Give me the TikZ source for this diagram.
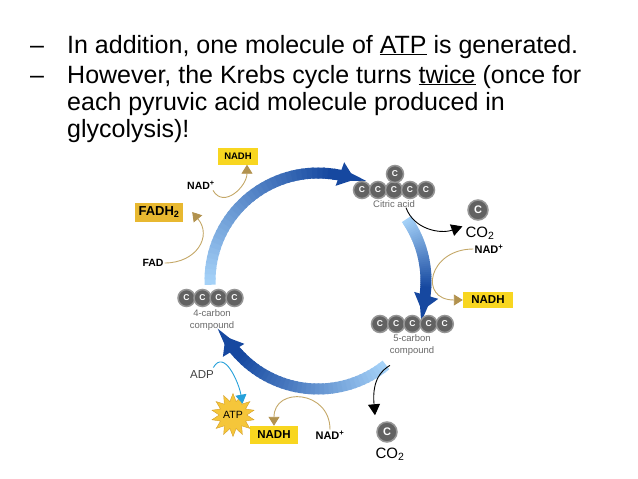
\documentclass[tikz,border=0pt]{standalone}
\usepackage{fontspec}
\setmainfont{Liberation Sans}
\usetikzlibrary{arrows.meta,shapes.geometric}

\begin{document}
\begin{tikzpicture}[x=1pt, y=1pt,
    carbon/.style={circle, fill=colorC, draw=colorCring, line width=1.5pt, minimum size=17pt, inner sep=0pt, text=white, font=\bfseries\fontsize{8.5}{8.5}\selectfont},
    molname/.style={text=colorLbl, font=\fontsize{9.5}{11.5}\selectfont, inner sep=0pt, align=center},
    cofactor/.style={font=\bfseries\fontsize{11}{11}\selectfont, inner sep=1pt},
    nadhbox/.style={fill=colorNADH, font=\bfseries\fontsize{11.5}{11.5}\selectfont, minimum width=48pt, minimum height=17pt, inner sep=0pt},
    tanarrow/.style={draw=colorTan, line width=0.9pt, -{Triangle[width=11pt,length=9pt,color=colorTanHead]}},
    blackarrow/.style={draw=black, line width=0.9pt, -{Triangle[width=12pt,length=11pt]}},
    puce/.style={anchor=base west, inner sep=0pt, font=\fontsize{25}{28}\selectfont}
]
    % Couleurs
    \definecolor{cycLight}{RGB}{165,210,248}
    \definecolor{cycDark}{RGB}{22,72,160}
    \definecolor{colorNADH}{RGB}{248,214,32}
    \definecolor{colorFADH}{RGB}{232,184,48}
    \definecolor{colorTan}{RGB}{196,168,104}
    \definecolor{colorTanHead}{RGB}{178,146,78}
    \definecolor{colorC}{RGB}{98,98,98}
    \definecolor{colorCring}{RGB}{150,150,150}
    \definecolor{colorLbl}{RGB}{105,105,105}
    \definecolor{colorATP}{RGB}{245,198,58}
    \definecolor{colorATPedge}{RGB}{212,158,40}
    \definecolor{colorADP}{RGB}{38,160,218}

    \useasboundingbox (0,0) rectangle (638,-479);

    % Texte
    \node[puce] at (30,-53) {–};
    \node[puce] (l1) at (67,-53) {In addition, one molecule of \underline{ATP} is generated.};
    \node[puce] at (30,-83) {–};
    \node[puce] (l2) at (67,-83) {However, the Krebs cycle turns \underline{twice} (once for};
    \node[puce] (l3) at (67,-110) {each pyruvic acid molecule produced in};
    \node[puce] (l4) at (67,-137) {glycolysis)!};

    % Cycle (arcs en degrade)
    \coordinate (c) at (318,-281);
    \foreach \s/\e in {182/82, 35/-4, -51/-137}{
        \foreach \i in {0,...,35}{
            \pgfmathsetmacro\a{\s+(\e-\s)*\i/36}
            \pgfmathsetmacro\b{\s+(\e-\s)*(\i+1.4)/36}
            \pgfmathsetmacro\p{100*\i/35}
            \draw[shift={(c)}, line width=11pt, cycDark!\p!cycLight] (\a:108) arc[start angle=\a, end angle=\b, radius=108];
        }
        \pgfmathsetmacro\f{\e+12*sign(\e-\s)}
        \draw[shift={(c)}, line width=11pt, cycDark, -{Triangle[width=24pt,length=16pt]}] (\e:108) arc[start angle=\e, end angle=\f, radius=108];
    }

    % Molecules
    \foreach \k in {1,...,5}
        \node[carbon] (cit\k) at (362+16*\k-16, -190) {C};
    \node[carbon] (citTop) at (395,-174) {C};
    \node[molname] (citLbl) at (394,-204) {Citric acid};

    \foreach \k in {1,...,5}
        \node[carbon] (five\k) at (380+16.2*\k-16.2, -324) {C};
    \node[molname] (fiveLbl) at (412,-345) {5-carbon\\compound};

    \foreach \k in {1,...,4}
        \node[carbon] (four\k) at (186.5+16*\k-16, -298) {C};
    \node[molname] (fourLbl) at (212,-320) {4-carbon\\compound};

    % CO2
    \node[carbon, minimum size=20pt, font=\bfseries\fontsize{11}{11}\selectfont] (cA) at (478,-210) {C};
    \node[font=\fontsize{15}{15}\selectfont, inner sep=0pt] (co2A) at (480,-233) {CO\textsubscript{2}};
    \node[carbon, minimum size=20pt, font=\bfseries\fontsize{11}{11}\selectfont] (cB) at (387,-432) {C};
    \node[font=\fontsize{15}{15}\selectfont, inner sep=0pt] (co2B) at (390,-454) {CO\textsubscript{2}};

    % NAD+ / NADH / FAD
    \node[nadhbox, minimum width=40pt, font=\bfseries\fontsize{9.5}{9.5}\selectfont] (nadhA) at (238,-156) {NADH};
    \node[cofactor, font=\bfseries\fontsize{10.5}{10.5}\selectfont] (nadA) at (201,-185) {NAD\textsuperscript{+}};
    \node[nadhbox, fill=colorFADH, font=\bfseries\fontsize{13}{13}\selectfont, minimum height=19pt] (fadh) at (159,-212) {FADH\textsubscript{2}};
    \node[cofactor, font=\bfseries\fontsize{10.5}{10.5}\selectfont] (fad) at (153,-263) {FAD};
    \node[cofactor] (nadB) at (489,-249) {NAD\textsuperscript{+}};
    \node[nadhbox, minimum width=50pt, minimum height=16pt] (nadhB) at (488,-300) {NADH};
    \node[nadhbox, minimum height=18pt] (nadhC) at (274,-435) {NADH};
    \node[cofactor] (nadC) at (330,-435) {NAD\textsuperscript{+}};
    \node[font=\fontsize{11.5}{11.5}\selectfont, text=darkgray] (adp) at (202,-375) {ADP};
    \node[star, star points=14, star point ratio=1.55, minimum size=36pt, fill=colorATP, draw=colorATPedge, inner sep=0pt, font=\fontsize{10.5}{10.5}\selectfont] (atp) at (233,-415) {ATP};

    % Fleches
    \draw[tanarrow] ([xshift=-3pt]nadA.south east) to[out=-60, in=-90, looseness=1.3] ([xshift=9pt]nadhA.south);
    \draw[tanarrow] (fad.east) to[out=0, in=-50, looseness=1.4] ([xshift=9pt]fadh.east);
    \draw[tanarrow] (nadB.west) to[out=180, in=180, looseness=2.2] (nadhB.west);
    \draw[tanarrow] (nadC.north) to[out=90, in=90, looseness=1.8] (nadhC.north);
    \draw[draw=colorADP, line width=0.9pt, -{Triangle[width=11pt,length=9pt]}] ([xshift=-4pt]adp.north east) to[out=60, in=100, looseness=1.2] (atp.50);
    \draw[blackarrow] ([xshift=12pt]citLbl.south) to[out=-70, in=200] ([xshift=-3pt]co2A.north west);
    \draw[blackarrow] ([xshift=-22pt,yshift=-10pt]fiveLbl.south) to[out=210, in=95] ([xshift=-12pt,yshift=6pt]cB.north);
\end{tikzpicture}
\end{document}
